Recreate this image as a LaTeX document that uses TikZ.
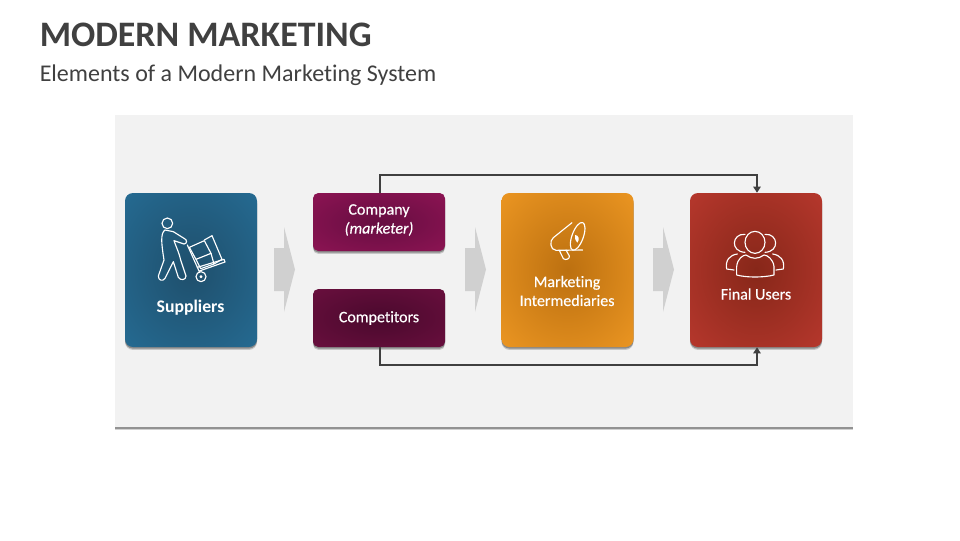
\documentclass[tikz,border=0pt]{standalone}
\usepackage{fontspec}
\setmainfont{Carlito}[Ligatures=NoCommon]
\newfontfamily\boxfont[FakeBold=0.35,Ligatures=NoCommon]{Carlito}
\usetikzlibrary{shadows,arrows.meta}
\definecolor{inkgrey}{HTML}{404040}
\definecolor{panelgrey}{HTML}{F2F2F2}
\definecolor{chevrongrey}{HTML}{D0D0D0}
\definecolor{bluedark}{HTML}{1F4F6C}
\definecolor{bluelight}{HTML}{266F98}
\definecolor{plumdark}{HTML}{660D41}
\definecolor{plumlight}{HTML}{931556}
\definecolor{winedark}{HTML}{4A092D}
\definecolor{winelight}{HTML}{6E1040}
\definecolor{orangedark}{HTML}{BC7010}
\definecolor{orangelight}{HTML}{F39C25}
\definecolor{reddark}{HTML}{872719}
\definecolor{redlight}{HTML}{BE3A30}
\newcommand{\declareglow}[3]{\pgfdeclareradialshading{#1}{\pgfpoint{0bp}{0bp}}
  {color(0bp)=(#2); color(42bp)=(#3); color(54bp)=(#3); color(68bp)=(#2!95!black)}}
\declareglow{blueglow}{bluedark}{bluelight}
\declareglow{plumglow}{plumdark}{plumlight}
\declareglow{wineglow}{winedark}{winelight}
\declareglow{orangeglow}{orangedark}{orangelight}
\declareglow{redglow}{reddark}{redlight}
\begin{document}
\begin{tikzpicture}
  [x=0.75pt,y=-0.75pt,
   softshadow/.style={drop shadow={shadow xshift=0pt,shadow yshift=-2.2pt,opacity=.18,fill=black},
     drop shadow={shadow xshift=0pt,shadow yshift=-1.2pt,opacity=.3,fill=black}},
   tallbox/.style={rectangle,rounded corners=6pt,minimum width=99pt,minimum height=115.5pt,softshadow},
   widebox/.style={rectangle,rounded corners=4pt,minimum width=99pt,minimum height=43.5pt,softshadow},
   boxtext/.style={text=white,align=center,inner sep=0pt,font=\boxfont\fontsize{12}{14.2}\selectfont},
   chevron/.style={fill=chevrongrey},
   flow/.style={draw=inkgrey,line width=1.4pt,-{Triangle[length=4.5pt,width=5.5pt]}},
   icon/.style={draw=white,line width=0.85pt,line join=round,line cap=round}]
\useasboundingbox (0,0) rectangle (960,540);
\node at (39.5,35) (title) [anchor=west,inner sep=0pt,text=inkgrey,font=\bfseries\fontsize{26.9}{30}\selectfont] {MODERN MARKETING};
\node at (39.5,75) (subtitle) [anchor=west,inner sep=0pt,text=inkgrey,font=\fontsize{18}{21}\selectfont] {Elements of a Modern Marketing System};
\node at (484,271) (panel) [rectangle,fill=panelgrey,minimum width=553.5pt,minimum height=234pt,softshadow] {};
%
\foreach \x in {274,465,653}
  \fill[chevron,shift={(\x,0)}] (0,248) -- (10,248) -- (10,227) -- (21,269.5) -- (10,312) -- (10,291) -- (0,291) -- cycle;
%
\node at (191,270) (suppliers) [tallbox,shade,shading=blueglow] {};
\node at (379,222) (company) [widebox,shade,shading=plumglow] {};
\node at (379,318) (competitors) [widebox,shade,shading=wineglow] {};
\node at (567.5,270) (intermediaries) [tallbox,shade,shading=orangeglow] {};
\node at (756,270) (users) [tallbox,shade,shading=redglow] {};
\node at (190.5,308) (supplierslabel) [boxtext,font=\bfseries\fontsize{13.3}{15}\selectfont] {Suppliers};
\node at (379,220) (companylabel) [boxtext] {Company\\\textit{(marketer)}};
\node at (379,318) (competitorslabel) [boxtext] {Competitors};
\node at (567,291) (intermediarieslabel) [boxtext] {Marketing\\Intermediaries};
\node at (756,294) (userslabel) [boxtext] {Final Users};
%
\draw [flow] ([xshift=0.75pt]company.north) -- ++(0,-18) -| ([xshift=0.75pt]users.north);
\draw [flow] ([xshift=0.75pt]competitors.south) -- ++(0,18) -| ([xshift=0.75pt]users.south);
%
% trolley man
\begin{scope}[shift={(110,170)},x=0.25pt,y=-0.25pt,icon]
\draw (172,160) circle (16);
\draw (165,180) .. controls (150,190) and (155,225) .. (162,270) -- (145,318) .. controls (145,332) and (158,335) .. (165,325) -- (190,275) -- (205,322) .. controls (212,333) and (228,330) .. (228,318) -- (212,270) .. controls (208,250) and (200,235) .. (192,212) -- (222,222) .. controls (232,222) and (232,208) .. (222,205) -- (190,185) -- cycle;
\draw (232,225) -- (268,305);
\draw (238,232) -- (283,212) -- (303,250) -- (258,268) -- cycle;
\draw (258,268) -- (272,296) -- (312,282) -- (303,250);
\draw (283,210) -- (306,197) -- (336,268) -- (312,282);
\draw (262,292) -- (342,268) -- (345,276) -- (268,303);
\draw (273,320) circle (15);
\draw (273,320) circle (3);
\end{scope}
% megaphone
\begin{scope}[shift={(490,170)},x=0.25pt,y=-0.25pt,icon]
\draw[rotate around={-20:(263,199)}] (263,199) ellipse (17 and 44);
\path[fill=white,draw=none] (255,195) .. controls (266,195) and (270,208) .. (262,218) .. controls (256,214) and (254,205) .. (255,195) -- cycle;
\draw (246,158) -- (190,203) .. controls (178,212) and (180,240) .. (198,241) -- (278,240);
\draw (208,241) -- (220,266) .. controls (228,272) and (240,266) .. (238,258) -- (228,240);
\end{scope}
% users
\begin{scope}[shift={(680,170)},x=0.25pt,y=-0.25pt,icon]
\draw (225,217) ellipse (30 and 33);
\draw (195,193) .. controls (155,190) and (150,245) .. (195,247);
\draw (255,193) .. controls (295,190) and (300,245) .. (255,247);
\draw (170,315) -- (170,290) .. controls (172,265) and (190,255) .. (198,255) .. controls (215,268) and (235,268) .. (252,255) .. controls (262,255) and (280,268) .. (282,290) -- (282,315) .. controls (250,323) and (200,323) .. (170,315);
\draw (162,300) -- (140,297) .. controls (135,270) and (150,255) .. (172,252);
\draw (288,300) -- (310,297) .. controls (315,270) and (300,255) .. (278,252);
\end{scope}
\end{tikzpicture}
\end{document}
